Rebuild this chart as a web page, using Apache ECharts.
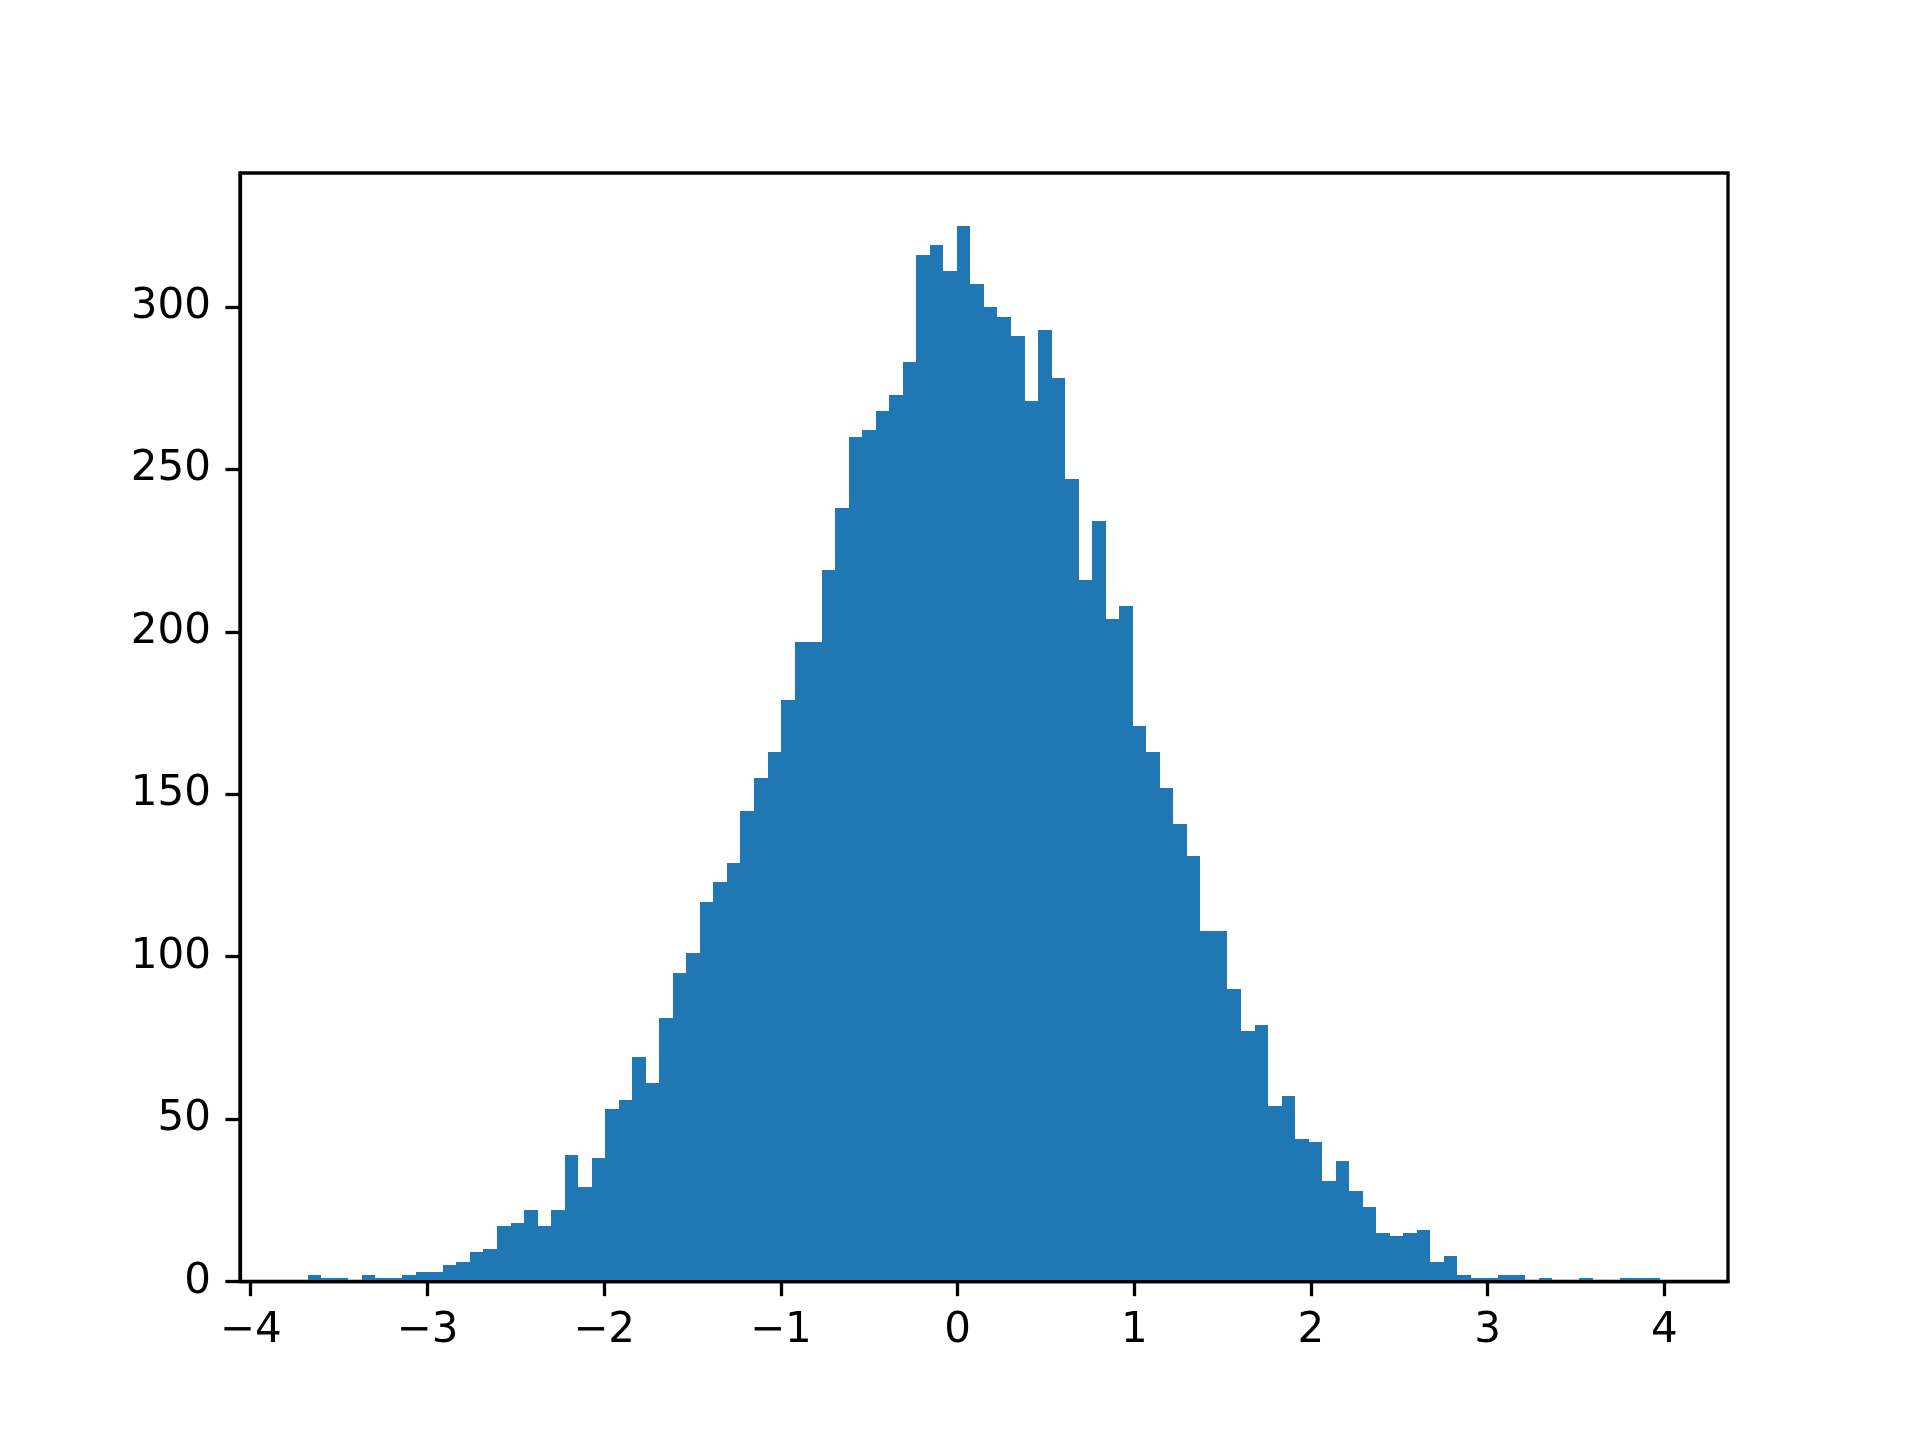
<!DOCTYPE html>
<html>
<head>
<meta charset="utf-8">
<script src="https://cdn.jsdelivr.net/npm/echarts@6/dist/echarts.min.js"></script>
<style>
  html, body { margin: 0; padding: 0; background: #fff; }
  #chart { width: 1920px; height: 1440px; }
</style>
</head>
<body>
<div id="chart"></div>
<script>
// Histogram: 100 bins
const binStart = -3.678;
const binWidth = 0.07655;
const counts = [
  2, 1, 1, 0, 2, 1, 1, 2, 3, 3,
  5, 6, 9, 10, 17, 18, 22, 17, 22, 39,
  29, 38, 53, 56, 69, 61, 81, 95, 101, 117,
  123, 129, 145, 155, 163, 179, 197, 197, 219, 238,
  260, 262, 268, 273, 283, 316, 319, 311, 325, 307,
  300, 297, 291, 271, 293, 278, 247, 216, 234, 204,
  208, 171, 163, 152, 141, 131, 108, 108, 90, 77,
  79, 54, 57, 44, 43, 31, 37, 28, 23, 15,
  14, 15, 16, 6, 8, 2, 1, 1, 2, 2,
  0, 1, 0, 0, 1, 0, 0, 1, 1, 1
];
const xTicks = [-4, -3, -2, -1, 0, 1, 2, 3, 4];
const yTicks = [0, 50, 100, 150, 200, 250, 300];
const xRange = [-4.0606, 4.360];
const yRange = [0, 341.25];

const histData = counts.map((c, i) => [binStart + i * binWidth, binStart + (i + 1) * binWidth, c]);

function fmt(v) {
  return v < 0 ? '\u2212' + Math.abs(v) : String(v);
}

const chart = echarts.init(document.getElementById('chart'), null, { renderer: 'canvas' });
const labelStyle = { fontFamily: 'DejaVu Sans', fontSize: 42, color: '#000' };
chart.setOption({
  animation: false,
  backgroundColor: '#fff',
  grid: {
    left: 240, right: 192, top: 173, bottom: 158.4,
    show: true, borderColor: '#000', borderWidth: 3.3, backgroundColor: 'transparent', z: 5
  },
  xAxis: {
    type: 'value', min: xRange[0], max: xRange[1],
    axisLine: { show: true, onZero: false, lineStyle: { color: '#000', width: 3.3 } },
    splitLine: { show: false },
    axisTick: { show: true, customValues: xTicks, length: 14.6, lineStyle: { color: '#000', width: 3.3 } },
    axisLabel: Object.assign({ customValues: xTicks, formatter: fmt, margin: 28 }, labelStyle)
  },
  yAxis: {
    type: 'value', min: yRange[0], max: yRange[1],
    axisLine: { show: true, onZero: false, lineStyle: { color: '#000', width: 3.3 } },
    splitLine: { show: false },
    axisTick: { show: true, customValues: yTicks, length: 14.6, lineStyle: { color: '#000', width: 3.3 } },
    axisLabel: Object.assign({ customValues: yTicks, formatter: fmt, margin: 29, padding: [5, 0, 0, 0] }, labelStyle)
  },
  series: [{
    type: 'custom',
    data: histData,
    encode: { x: [0, 1], y: 2 },
    clip: true,
    renderItem: function (params, api) {
      const x0 = api.value(0), x1 = api.value(1), c = api.value(2);
      if (!c) return null;
      const p0 = api.coord([x0, 0]);
      const p1 = api.coord([x1, c]);
      const left = Math.round(p0[0]);
      const right = Math.round(p1[0]);
      const top = Math.round(p1[1]);
      const bottom = Math.round(p0[1]);
      return {
        type: 'rect',
        shape: { x: left, y: top, width: right - left, height: bottom - top },
        style: { fill: '#1f77b4' }
      };
    }
  }]
});
</script>
</body>
</html>
